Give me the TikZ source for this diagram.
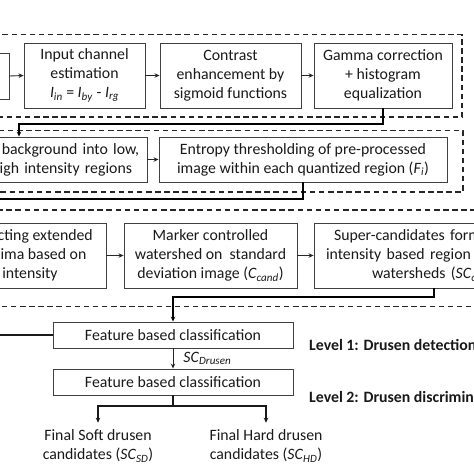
\documentclass[tikz,border=0pt]{standalone}
\usepackage{fontspec}
\setmainfont{Carlito}
\usetikzlibrary{arrows.meta}
\newcommand{\vsub}[2]{\textit{#1}\textsubscript{\textit{#2}}}
\begin{document}
\begin{tikzpicture}[x=1pt,y=-1pt,
  every node/.style={font=\fontsize{15.8}{19}\selectfont, inner sep=0pt, text=black!90},
  box/.style={draw=black!75, line width=0.9pt, align=center},
  grp/.style={draw=black!85, line width=1.1pt, dash pattern=on 5.5pt off 3.6pt},
  tip/.style={-{Stealth[length=5pt,width=4.5pt]}},
  thinline/.style={line width=0.9pt, black!85},
  midline/.style={line width=1.3pt, black!90},
  fat/.style={line width=2pt, black},
  lvl/.style={font=\fontsize{15.8}{19}\selectfont\bfseries, anchor=west}]
\useasboundingbox (0,0) rectangle (474,474);
\clip (0,0) rectangle (474,474);

% group frames
\draw[grp] (-20,34.5) rectangle (462,117);
\draw[grp] (-20,130.5) rectangle (463,192);
\draw[grp] (-20,210) rectangle (500,306.5);

% row 1
\node[box, minimum width=109pt, minimum height=46pt] (b0) at (-45.5,76) {};
\node[box, minimum width=121pt, minimum height=65pt] (b1) at (84.5,75.5)
  {Input channel\\estimation\\\vsub{I}{in} = \vsub{I}{by} - \vsub{I}{rg}};
\node[box, minimum width=141pt, minimum height=65pt] (b2) at (230.5,75.5)
  {Contrast\\enhancement by\\sigmoid functions};
\node[box, minimum width=138pt, minimum height=65pt] (b3) at (383,75.5)
  {Gamma correction\\+ histogram\\equalization};

% row 2
\node[box, minimum width=248pt, minimum height=45pt, text width=232pt, align=right] (b4) at (23,159.5)
  {background into low,\\high intensity regions\hspace*{7pt}};
\node[box, minimum width=288pt, minimum height=45pt] (b5) at (303,159.5)
  {Entropy thresholding of pre-processed\\image within each quantized region (\vsub{F}{i})};

% row 3
\node[box, minimum width=152pt, minimum height=65pt] (b6) at (30,255.5)
  {Detecting extended\\maxima based on\\intensity};
\node[box, minimum width=173pt, minimum height=65pt] (b7) at (210.5,255.5)
  {Marker controlled\\watershed on~ standard\\deviation image (\vsub{C}{cand})};
\node[box, minimum width=240pt, minimum height=65pt, text width=216pt, align=left] (b8) at (434,255.5)
  {\hspace*{8pt}Super-candidates formed\\intensity based region\\\hspace*{46pt}watersheds (\vsub{SC}{cand})};

% classification
\node[box, minimum width=240pt, minimum height=26pt] (f1) at (173,335) {Feature based classification};
\node[box, minimum width=240pt, minimum height=26pt] (f2) at (173,382) {Feature based classification};
\node[lvl] (l1) at (309,345) {Level 1: Drusen detection};
\node[lvl] (l2) at (309,397) {Level 2: Drusen discrimination};

\node[align=center, inner ysep=7pt] (s1) at (98,446) {Final Soft drusen\\candidates (\vsub{SC}{SD})};
\node[align=center, inner ysep=7pt] (s2) at (266,446) {Final Hard drusen\\candidates (\vsub{SC}{HD})};

% connectors
\draw[thinline, tip] (b0.east) -- (b1.west);
\draw[thinline, tip] (b1.east) -- (b2.west);
\draw[thinline, tip] (b2.east) -- (b3.west);
\coordinate (k1) at (19,124);
\draw[fat, tip] (b3.south) |- (k1) -- (k1 |- b4.north);
\draw[thinline, tip] (b4.east) -- (b5.west);
\coordinate (L2) at (-20,199);
\draw[fat] (b5.south) |- (L2);
\draw[thinline, tip] (b6.east) -- (b7.west);
\draw[thinline, tip] (b7.east) -- (b8.west);
\coordinate (k3) at (173,297);
\draw[fat, tip] (b8.south) |- (k3) -- (f1.north);
\coordinate (L3) at (-20,335);
\draw[midline] (L3) -- (f1.west);
\draw[thinline, tip] (f1.south) -- node[anchor=west, xshift=10pt] (sc) {\vsub{SC}{Drusen}} (f2.north);
\coordinate (k4) at (173,406);
\draw[midline] (f2.south) -- (k4);
\draw[midline, tip] (k4) -| (s1.north);
\draw[midline, tip] (k4) -| (s2.north);
\end{tikzpicture}
\end{document}
